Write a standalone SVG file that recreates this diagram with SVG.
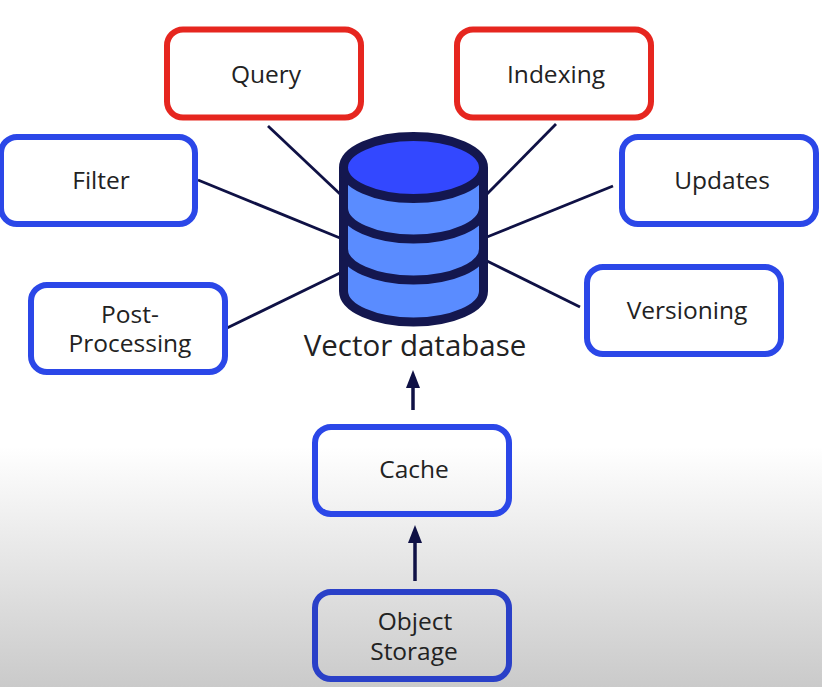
<svg xmlns="http://www.w3.org/2000/svg" width="822" height="687" viewBox="0 0 822 687">
<defs>
<linearGradient id="bg" x1="0" y1="0" x2="0" y2="1"><stop offset="0" stop-color="#ffffff"/><stop offset="0.65" stop-color="#ffffff"/><stop offset="1" stop-color="#cacaca"/></linearGradient>
</defs>
<style>
text{font-family:"Open Sans","Noto Sans",sans-serif;font-size:24.500px;fill:#222;text-anchor:middle}
.b{fill:#fff;stroke:#2b47e8;stroke-width:6}
.t{fill:none;stroke:#2b47e8;stroke-width:6}
.s{fill:none;stroke:#2a40c8;stroke-width:6}
.r{fill:#fff;stroke:#e6261f;stroke-width:6}
.c{stroke:#0f1145;stroke-width:2.800;fill:none}
.a{stroke:#0f1145;stroke-width:3.500;fill:none}
.k{stroke:#14174f;stroke-width:9;fill:none}
</style>
<rect width="822" height="687" fill="url(#bg)"/>
<g id="connectors">
<line class="c" x1="268" y1="126" x2="340" y2="194"/>
<line class="c" x1="556" y1="124" x2="487" y2="194"/>
<line class="c" x1="198" y1="180" x2="340" y2="238"/>
<line class="c" x1="613" y1="186" x2="487" y2="237"/>
<line class="c" x1="227" y1="328" x2="340" y2="273"/>
<line class="c" x1="580" y1="307" x2="487" y2="261"/>
<path class="a" d="M413 410V385"/><path d="M413 370L420 388H406Z" fill="#0f1145"/>
<path class="a" d="M415 581V542"/><path d="M415 525L422 543H408Z" fill="#0f1145"/>
</g>
<g id="query"><rect class="r" x="167" y="29.500" width="194" height="88" rx="16"/><text x="266" y="83">Query</text></g>
<g id="indexing"><rect class="r" x="457" y="29.500" width="194" height="88" rx="16"/><text x="556" y="83">Indexing</text></g>
<g id="filter"><rect class="b" x="1" y="137" width="194" height="87" rx="16"/><text x="101" y="189">Filter</text></g>
<g id="updates"><rect class="b" x="622" y="137" width="194" height="87" rx="16"/><text x="722" y="189">Updates</text></g>
<g id="versioning"><rect class="b" x="587" y="267" width="194" height="87" rx="16"/><text x="687" y="319">Versioning</text></g>
<g id="post-processing"><rect class="b" x="31" y="285" width="194" height="87" rx="16"/><text x="130" y="323">Post-</text><text x="130" y="352">Processing</text></g>
<g id="cache"><rect class="t" x="315" y="427" width="194" height="87" rx="16"/><text x="414" y="478">Cache</text></g>
<g id="object-storage"><rect class="s" x="315" y="592" width="194" height="87" rx="16"/><text x="415" y="630">Object</text><text x="414" y="660">Storage</text></g>
<g id="vector-database">
<path d="M343.500 167.500V291A70 31 0 0 0 483.500 291V167.500Z" fill="#5a8cff"/>
<ellipse cx="413.500" cy="167.500" rx="70" ry="31" fill="#3348ff"/>
<path class="k" d="M343.500 167.500V291A70 31 0 0 0 483.500 291V167.500"/>
<ellipse class="k" cx="413.500" cy="167.500" rx="70" ry="31"/>
<path class="k" d="M343.500 208A70 31 0 0 0 483.500 208"/>
<path class="k" d="M343.500 249A70 31 0 0 0 483.500 249"/>
<text x="415" y="356" style="font-size:29.500px">Vector database</text>
</g>
</svg>
